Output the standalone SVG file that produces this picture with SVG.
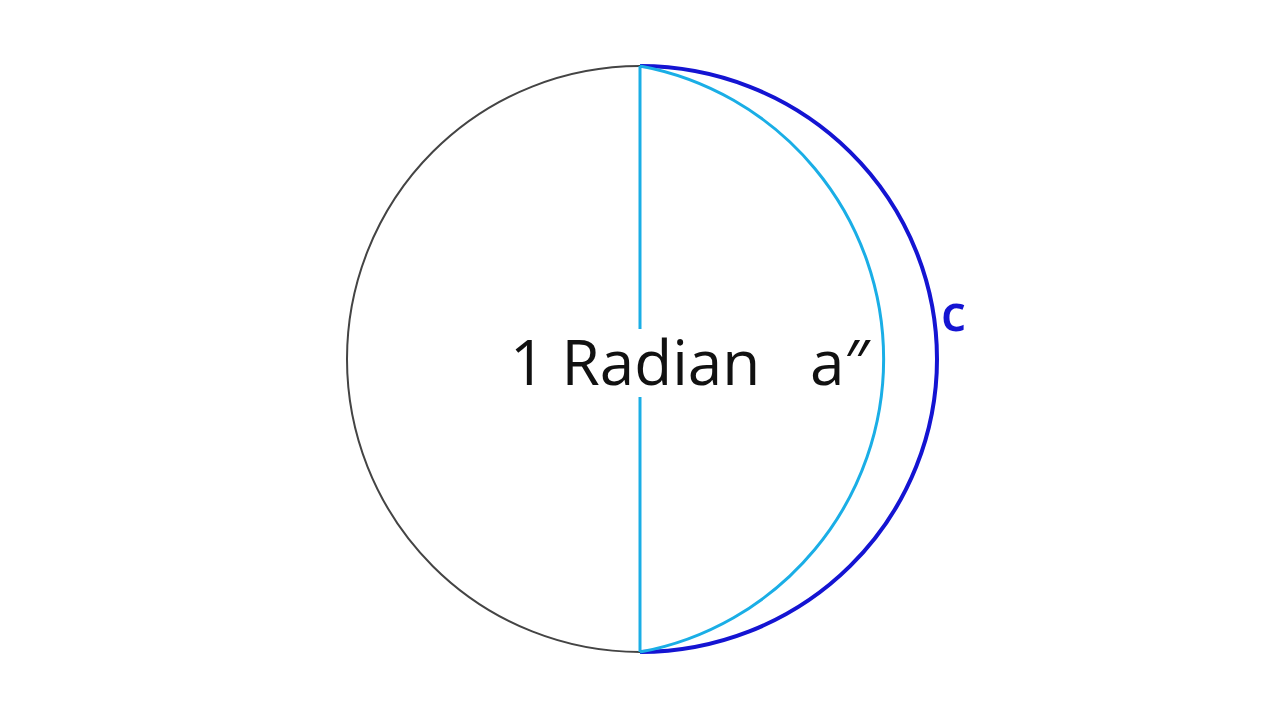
<svg xmlns="http://www.w3.org/2000/svg" width="1280" height="720" viewBox="0 0 1280 720">
<style>
.circ{fill:none;stroke:#444;stroke-width:2}
.arcC{fill:none;stroke:#1414d2;stroke-width:4}
.arcA{fill:none;stroke:#1aaee6;stroke-width:3}
.lbl{font-family:"Open Sans","Liberation Sans",sans-serif;fill:#111}
.c{font-family:"Open Sans","Liberation Sans",sans-serif;fill:#1414d2;font-weight:600}
</style>
<rect width="1280" height="720" fill="#fff"/>
<g id="circle"><path class="circ" d="M640,66 A293,293 0 0 0 640,652"/></g>
<g id="connectors">
<path class="arcC" d="M640,66 A297,293 0 0 1 640,652"/>
<path class="arcA" d="M640,66 A298,298 0 0 1 640,652"/>
<line class="arcA" x1="640" y1="66" x2="640" y2="329"/>
<line class="arcA" x1="640" y1="397" x2="640" y2="652"/>
</g>
<g id="labels">
<text class="lbl" x="510" y="385" font-size="62">1 Radian</text>
<text class="lbl" x="810" y="385" font-size="62">a″</text>
<text class="c" x="941" y="331" font-size="50">c</text>
</g>
</svg>
